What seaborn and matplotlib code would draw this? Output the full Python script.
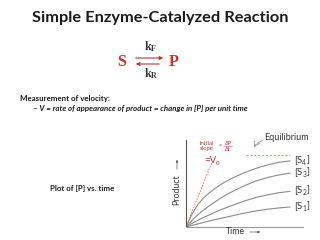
import numpy as np
import pandas as pd
import seaborn as sns
import matplotlib.pyplot as plt

sns.set_style("white")
plt.rcParams['font.family'] = ['Lato', 'DejaVu Sans']

# ---- data ----
time = [0, 0.5, 1, 1.5, 2, 2.5, 3, 3.5, 4, 5, 6, 7, 8, 8.9]
s4 = [0, 1.45, 2.55, 3.35, 3.95, 4.45, 4.9, 5.3, 5.65, 6.25, 6.75, 7.15, 7.45, 7.6]
s3 = [0, 0.75, 1.4, 1.95, 2.45, 2.9, 3.35, 3.75, 4.1, 4.75, 5.3, 5.7, 6.0, 6.2]
s2 = [0, 0.4, 0.75, 1.1, 1.4, 1.7, 2.0, 2.25, 2.5, 3.0, 3.4, 3.7, 3.95, 4.1]
s1 = [0, 0.18, 0.35, 0.52, 0.7, 0.85, 1.0, 1.15, 1.3, 1.6, 1.85, 2.05, 2.2, 2.3]
series = ["S4", "S3", "S2", "S1"]
sub_labels = ["4", "3", "2", "1"]

v0_t = [0, 2.2]
v0_p = [0, 7.4]
eq_t = [5.1, 8.9]
eq_p = [8.3, 8.3]

df = pd.DataFrame({
    "time": time * 4,
    "product": s4 + s3 + s2 + s1,
    "substrate": [s for s in series for _ in time],
})

red = "#c8322d"
W, H = 320, 240


def fx(x, y):
    # pixel position -> figure fraction
    return x / W, 1 - y / H


fig = plt.figure(figsize=(3.2, 2.4), dpi=100)
fig.patch.set_facecolor("white")

# ---- slide text ----
fig.text(*fx(160, 18), "Simple Enzyme-Catalyzed Reaction", ha="center", va="center",
         fontsize=11.8, fontweight="bold", color="#1a1a1a")

# reaction S <-> P
serif = "Liberation Serif"
fig.text(*fx(122, 62), "S", ha="center", va="center", fontsize=11.5, fontweight="bold",
         color=red, family=serif)
fig.text(*fx(174, 62), "P", ha="center", va="center", fontsize=11.5, fontweight="bold",
         color=red, family=serif)
fig.text(*fx(148, 47), "k", ha="center", va="center", fontsize=8.5, fontweight="bold",
         color="#333333", family=serif)
fig.text(*fx(153.5, 49), "F", ha="center", va="center", fontsize=5.8, fontweight="bold",
         color="#333333", family=serif)
fig.text(*fx(148, 74), "k", ha="center", va="center", fontsize=8.5, fontweight="bold",
         color="#333333", family=serif)
fig.text(*fx(153.5, 76), "R", ha="center", va="center", fontsize=5.8, fontweight="bold",
         color="#333333", family=serif)
fig.add_artist(plt.matplotlib.patches.FancyArrowPatch(
    fx(133, 58), fx(166, 58), transform=fig.transFigure, arrowstyle="-|>",
    mutation_scale=5, color=red, lw=0.8))
fig.add_artist(plt.matplotlib.patches.FancyArrowPatch(
    fx(162, 64), fx(133, 64), transform=fig.transFigure, arrowstyle="-|>",
    mutation_scale=5, color=red, lw=0.8))

fig.text(*fx(20, 98), "Measurement of velocity:", ha="left", va="center",
         fontsize=5.7, fontweight="bold", color="#1a1a1a")
fig.text(*fx(33, 109), "\u2013 V = rate of appearance of product = change in [P] per unit time",
         ha="left", va="center", fontsize=5.7, fontweight="bold", style="italic",
         color="#1a1a1a")
fig.text(*fx(82, 188), "Plot of [P] vs. time", ha="center", va="center",
         fontsize=5.7, fontweight="bold", color="#1a1a1a")

# ---- graph ----
ax = fig.add_axes([186 / W, 1 - 227 / H, (303 - 186) / W, (227 - 140) / H])
sns.lineplot(data=df, x="time", y="product", units="substrate", estimator=None,
             color="#8a8a8a", linewidth=0.8, ax=ax, legend=False)
ax.plot(v0_t, v0_p, color="#e86060", lw=0.6, ls=(0, (2, 1.5)))
ax.plot(eq_t, eq_p, color="#93a9e6", lw=0.8, ls=(0, (2, 1.5)))
ax.set_xlim(0, 10)
ax.set_ylim(0, 10)
ax.set_xticks([])
ax.set_yticks([])
ax.set_xlabel("")
ax.set_ylabel("")
for side in ["top", "right"]:
    ax.spines[side].set_visible(False)
ax.spines["left"].set_color("#555555")
ax.spines["bottom"].set_color("#999999")
ax.spines["left"].set_linewidth(0.8)
ax.spines["bottom"].set_linewidth(0.8)

ends = [s4[-1], s3[-1], s2[-1], s1[-1]]
for end, sub in zip(ends, sub_labels):
    ax.text(9.25, end + 0.15, "[S", ha="left", va="center", fontsize=7, color="#333333")
    ax.text(9.95, end - 0.15, sub, ha="left", va="center", fontsize=4.8, color="#333333",
            clip_on=False)
    ax.text(10.35, end + 0.15, "]", ha="left", va="center", fontsize=7, color="#333333",
            clip_on=False)

ax.text(8.6, 10.3, "Equilibrium", ha="center", va="center", fontsize=6.5,
        color="#333333", clip_on=False)
ax.annotate("", xy=(5.7, 8.85), xytext=(6.8, 10.0),
            arrowprops=dict(arrowstyle="->", color="#777777", lw=0.5, ls="--",
                            connectionstyle="arc3,rad=0.3"), annotation_clip=False)

ax.text(1.8, 9.6, "initial", ha="center", va="center", fontsize=4.3, color=red,
        clip_on=False)
ax.text(1.8, 9.0, "slope", ha="center", va="center", fontsize=4.3, color=red,
        clip_on=False)
ax.text(2.9, 9.3, "=", ha="center", va="center", fontsize=4.3, color=red, clip_on=False)
ax.text(3.6, 9.6, "\u0394P", ha="center", va="center", fontsize=4.0, color=red,
        clip_on=False)
ax.plot([3.25, 3.95], [9.3, 9.3], color=red, lw=0.4, clip_on=False)
ax.text(3.6, 8.95, "\u0394t", ha="center", va="center", fontsize=4.0, color=red,
        clip_on=False)
ax.text(2.1, 7.6, "=V", ha="center", va="center", fontsize=7, color=red)
ax.text(2.75, 7.35, "0", ha="center", va="center", fontsize=4.5, color=red)

fig.text(*fx(177, 190), "Product", rotation=90, ha="center", va="center",
         fontsize=6.3, color="#333333")
fig.add_artist(plt.matplotlib.patches.FancyArrowPatch(
    fx(177, 172), fx(177, 157), transform=fig.transFigure, arrowstyle="-|>",
    mutation_scale=3, color="#555555", lw=0.5))
fig.text(*fx(235, 232), "Time", ha="center", va="center", fontsize=6.3, color="#333333")
fig.add_artist(plt.matplotlib.patches.FancyArrowPatch(
    fx(247, 232), fx(263, 232), transform=fig.transFigure, arrowstyle="-|>",
    mutation_scale=3, color="#555555", lw=0.5))

fig.savefig("out.png", dpi=100, facecolor="white")
